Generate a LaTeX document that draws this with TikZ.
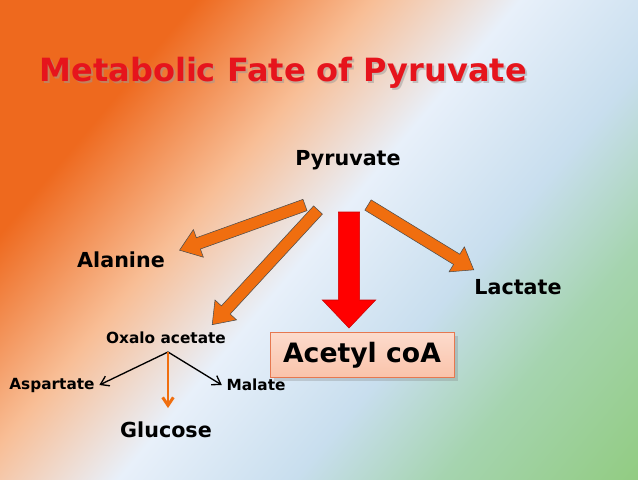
\documentclass[tikz,border=0pt]{standalone}
\usepackage{fontspec}
\setmainfont{DejaVu Sans}
\usetikzlibrary{arrows.meta,shadows}
\definecolor{o1}{RGB}{238,105,30}
\definecolor{o2}{RGB}{248,190,150}
\definecolor{b1}{RGB}{232,240,250}
\definecolor{b2}{RGB}{200,222,238}
\definecolor{g1}{RGB}{165,212,175}
\definecolor{g2}{RGB}{125,195,80}
\pgfdeclarehorizontalshading{bgshade}{100bp}{color(0bp)=(o1); color(28bp)=(o1); color(40bp)=(o2); color(50bp)=(b1); color(62bp)=(b2); color(72bp)=(g1); color(100bp)=(g2)}
\definecolor{titlered}{RGB}{230,20,28}
\definecolor{arrorange}{RGB}{240,110,15}
\definecolor{boxfill}{RGB}{250,195,170}
\definecolor{boxdraw}{RGB}{230,120,80}
% #1 x,#2 y,#3 angle,#4 length,#5 shaft half,#6 head half,#7 head length, #8 style
\newcommand\fatarrow[8]{%
  \begin{scope}[shift={(#1,#2)},rotate=#3]
    \draw[#8] (0pt,#5) -- ({#4-#7},#5) -- ({#4-#7},#6) -- (#4,0pt) -- ({#4-#7},-#6) -- ({#4-#7},-#5) -- (0pt,-#5) -- cycle;
  \end{scope}}
\tikzset{
  lbl/.style={font=\bfseries\fontsize{15.5}{18}\selectfont, text=black},
  small/.style={font=\bfseries\fontsize{11.5}{13}\selectfont, text=black},
  orangearrow/.style={fill=arrorange, draw=black!70, line width=0.4pt, line join=miter},
  redarrow/.style={fill=red, draw=red!80!black, line width=0.4pt}
}
\begin{document}
\begin{tikzpicture}[x=0.75pt,y=-0.75pt]
\useasboundingbox (0,0) rectangle (638,479);
\shade[shading=bgshade, shading angle=-40] (0,0) rectangle (638,479);
\node[font=\bfseries\fontsize{24}{28}\selectfont, text=black!40, anchor=west, opacity=0.5] at (37,75) {Metabolic Fate of Pyruvate};
\node[font=\bfseries\fontsize{24}{28}\selectfont, text=titlered, anchor=west] (title) at (35,73) {Metabolic Fate of Pyruvate};
\node[lbl] (pyr) at (348,160) {Pyruvate};
\node[lbl] (ala) at (121,260) {Alanine};
\node[lbl] (lac) at (518,287) {Lactate};
\node[small] (oxa) at (166,338) {Oxalo acetate};
\node[small] (asp) at (52,385) {Aspartate};
\node[small] (mal) at (256,385) {Malate};
\node[lbl] (glu) at (166,430) {Glucose};
\node[draw=boxdraw, top color=boxfill!60, bottom color=boxfill, minimum width=138pt, minimum height=34pt, font=\bfseries\fontsize{20}{22}\selectfont, drop shadow={opacity=0.3}] (aco) at (362,355) {Acetyl coA};
\fatarrow{305}{205}{199.8}{100pt}{4.5pt}{11pt}{15pt}{orangearrow}
\fatarrow{318}{210}{227.3}{117pt}{4.5pt}{11pt}{15pt}{orangearrow}
\fatarrow{368}{205}{-31.5}{93pt}{4.5pt}{11pt}{15pt}{orangearrow}
\fatarrow{349}{212}{-90}{87pt}{7.9pt}{20pt}{21pt}{redarrow}
\coordinate (fork) at (168,352);
\draw[-{Straight Barb[length=6pt,width=8pt]}, line width=1pt] (fork) -- (asp.east);
\draw[-{Straight Barb[length=6pt,width=8pt]}, line width=1pt] (fork) -- (mal.west);
\draw[-{Straight Barb[length=6pt,width=8pt]}, line width=2.2pt, arrorange] (fork) -- (168,408);
\end{tikzpicture}
\end{document}
